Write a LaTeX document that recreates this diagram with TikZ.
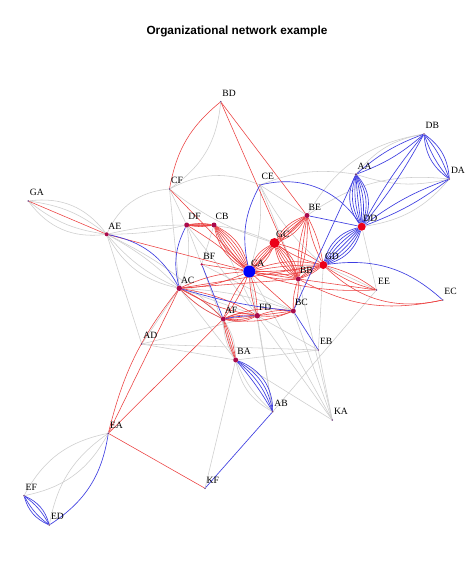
\documentclass[tikz,border=0pt]{standalone}
\usepackage{fontspec}
\setmainfont{Liberation Serif}
\newfontfamily\titlefont{Liberation Sans}
\usetikzlibrary{backgrounds}
\definecolor{eg}{RGB}{205,205,205}
\definecolor{er}{RGB}{236,62,62}
\definecolor{eb}{RGB}{62,62,225}
\definecolor{vp}{RGB}{170,10,75}
\definecolor{vb}{RGB}{0,0,250}
\definecolor{vr}{RGB}{235,0,25}
\definecolor{vt}{RGB}{110,60,120}
\tikzset{
  ge/.style={eg, line width=0.55pt},
  re/.style={er, line width=0.55pt},
  be/.style={eb, line width=0.65pt},
  vtx/.style={circle, inner sep=0pt, draw=none},
  lab/.style={anchor=south west, inner sep=0pt, font=\fontsize{9.6}{10}\selectfont},
}
\newcommand\V[5]{\node[vtx, minimum size=#4, fill=#5] (#1) at (#2,-#3) {};
  \node[lab] (l#1) at (#2+1.5,-#3+5) {#1};}
\newcommand\E[4]{\foreach \bb in {#4} {\draw[#1] (#2) to[bend left=\bb] (#3);}}
\begin{document}
\begin{tikzpicture}[x=1pt,y=1pt]
\useasboundingbox (0,0) rectangle (474,-566);
\node[font=\titlefont\bfseries\fontsize{11.8}{13}\selectfont] (title) at (237,-31) {Organizational network example};
% vertices
\V{BD}{220.7}{101.7}{1.8pt}{vt}
\V{CF}{169.5}{189}{1.8pt}{vt}
\V{CE}{260}{185}{1.8pt}{vt}
\V{GA}{28.3}{201}{1.8pt}{vt}
\V{AE}{106.7}{234.3}{4pt}{vp}
\V{DF}{186.7}{225}{5pt}{vp}
\V{CB}{214}{225}{5pt}{vp}
\V{BF}{201.7}{264.3}{2.5pt}{vp}
\V{CA}{249.3}{271.5}{12pt}{vb}
\V{GC}{274.5}{243}{10pt}{vr}
\V{BE}{307}{215.5}{5pt}{vp}
\V{AA}{356}{174.3}{2.5pt}{vt}
\V{DB}{424}{134}{1.8pt}{vt}
\V{DA}{449.3}{179}{1.8pt}{vt}
\V{DD}{361.7}{226.7}{8pt}{vr}
\V{GD}{323.3}{265}{8pt}{vr}
\V{BB}{298.3}{279}{5pt}{vp}
\V{EE}{376.5}{290}{1.8pt}{vt}
\V{EC}{442.7}{300}{1.8pt}{vt}
\V{AC}{179.3}{288.3}{5.5pt}{vp}
\V{AF}{223.3}{319}{5pt}{vp}
\V{FD}{257.3}{315.7}{5.5pt}{vp}
\V{BC}{293.3}{311}{5pt}{vp}
\V{EB}{318.3}{350}{1.8pt}{vt}
\V{AD}{141.7}{344}{1.8pt}{vt}
\V{BA}{235.7}{360}{5pt}{vp}
\V{AB}{272.7}{411.7}{2pt}{vt}
\V{KA}{332.3}{420}{1.8pt}{vt}
\V{EA}{108.3}{433.3}{2pt}{vt}
\V{KF}{205}{488.3}{1.8pt}{vt}
\V{EF}{24}{495.7}{1.8pt}{vt}
\V{ED}{49.3}{525}{1.8pt}{vt}
\begin{scope}[on background layer]
\fill[white] (0,0) rectangle (474,-566);
% grey ties
\E{ge}{GA}{AE}{-30,-15,15,30}
\E{ge}{AE}{DF}{-6,6}
\E{ge}{AE}{CF}{30}
\E{ge}{AE}{AC}{-24,-12,8}
\E{ge}{AE}{AD}{0}
\E{ge}{AE}{AF}{10}
\E{ge}{CF}{AC}{0}
\E{ge}{CF}{DF}{0}
\E{ge}{BD}{CF}{25}
\E{ge}{CF}{CE}{25}
\E{ge}{CF}{GC}{-10}
\E{ge}{CE}{CA}{10}
\E{ge}{CE}{BB}{0}
\E{ge}{CE}{GD}{-10}
\E{ge}{CE}{AA}{15}
\E{ge}{CE}{BE}{0}
\E{ge}{DF}{BF}{0}
\E{ge}{DF}{AC}{15}
\E{ge}{DF}{FD}{0}
\E{ge}{CB}{FD}{0}
\E{ge}{CB}{BF}{0}
\E{ge}{AC}{AF}{-10,10}
\E{ge}{AC}{FD}{0}
\E{ge}{AC}{BA}{0}
\E{ge}{AC}{AD}{0}
\E{ge}{AC}{BC}{8}
\E{ge}{AD}{FD}{0}
\E{ge}{AD}{BA}{0}
\E{ge}{AD}{EB}{0}
\E{ge}{BA}{AB}{-25,-12}
\E{ge}{BA}{KA}{0}
\E{ge}{BA}{EB}{0}
\E{ge}{FD}{AB}{0}
\E{ge}{FD}{KA}{0}
\E{ge}{FD}{EB}{0}
\E{ge}{BC}{KA}{0}
\E{ge}{EB}{KA}{0}
\E{ge}{AB}{EE}{0}
\E{ge}{KF}{BA}{0}
\E{ge}{BF}{BA}{0}
\E{ge}{BF}{BC}{0}
\E{ge}{AF}{BA}{-15,15}
\E{ge}{EA}{EF}{-25,25}
\E{ge}{EA}{ED}{-22}
\E{ge}{AA}{DB}{20}
\E{ge}{AA}{DA}{-15}
\E{ge}{DD}{DA}{-20}
\E{ge}{BE}{DA}{20}
\E{ge}{BE}{DB}{25}
\E{ge}{GD}{EE}{0}
\E{ge}{DD}{EE}{0}
\E{ge}{GD}{EB}{0}
\E{ge}{CA}{AB}{0}
\E{ge}{CA}{KA}{0}
\E{ge}{BB}{KA}{0}
\E{ge}{DF}{GC}{12}
% red ties
\E{re}{BD}{CF}{-20}
\E{re}{BD}{BB}{0}
\E{re}{BD}{BE}{0}
\E{re}{CF}{CA}{0}
\E{re}{GA}{AE}{0}
\E{re}{AE}{CA}{0}
\E{re}{DF}{CB}{-10,-5,0,5,10}
\E{re}{CB}{CA}{-24,-16,-8,0,8,16,24}
\E{re}{DF}{CA}{5}
\E{re}{GC}{CA}{-20,-10,0,10,20}
\E{re}{GC}{BE}{-20,-10,0,10,20}
\E{re}{GC}{BB}{-25,-15,-5,5,15,25}
\E{re}{GC}{GD}{-10,10}
\E{re}{CA}{BB}{-10,0,10}
\E{re}{CA}{GD}{-15,-5,5,15}
\E{re}{BE}{BB}{-10,0,10}
\E{re}{BE}{GD}{-8,8}
\E{re}{BB}{GD}{-10,0,10}
\E{re}{CA}{BE}{0}
\E{re}{CA}{AF}{-8,8}
\E{re}{CA}{FD}{-8,8}
\E{re}{CA}{BC}{0}
\E{re}{CA}{AC}{-10,10}
\E{re}{AF}{FD}{-20,-10,0,10,20}
\E{re}{FD}{BC}{-12,0,12}
\E{re}{AF}{BC}{-15,15}
\E{re}{BB}{BC}{-10,10}
\E{re}{AC}{BB}{0}
\E{re}{AC}{GD}{0}
\E{re}{AC}{FD}{-10,10}
\E{re}{AC}{AF}{-10,10}
\E{re}{AC}{EA}{0,-12}
\E{re}{AF}{EA}{0}
\E{re}{EA}{KF}{0}
\E{re}{GD}{EE}{-10,10}
\E{re}{BB}{EE}{0}
\E{re}{GD}{EC}{-28}
\E{re}{CA}{EE}{-10}
\E{re}{BB}{EC}{-20}
\E{re}{AF}{BA}{-8,0,8}
\E{re}{BF}{CA}{0}
% blue ties
\E{be}{AE}{AC}{25}
\E{be}{DF}{AC}{-20}
\E{be}{AC}{BC}{-5}
\E{be}{BF}{AF}{0}
\E{be}{CE}{CA}{-20}
\E{be}{CE}{DD}{35}
\E{be}{BE}{DD}{0}
\E{be}{AA}{DD}{-32,-22,-12,-3,6,15,25,34}
\E{be}{AA}{DB}{-10,10}
\E{be}{DB}{DA}{-25,-10,10,25}
\E{be}{DB}{DD}{-5,5}
\E{be}{DA}{DD}{-8,8}
\E{be}{GD}{DD}{-30,-20,-10,0,10,20,30}
\E{be}{GD}{EC}{25}
\E{be}{AA}{BC}{0}
\E{be}{EB}{BC}{0}
\E{be}{BA}{AB}{5,15,25,35}
\E{be}{KF}{AB}{0}
\E{be}{EA}{ED}{24}
\E{be}{EF}{ED}{-25,-12,12,25}
\E{be}{AF}{FD}{5}
\end{scope}
\end{tikzpicture}
\end{document}
